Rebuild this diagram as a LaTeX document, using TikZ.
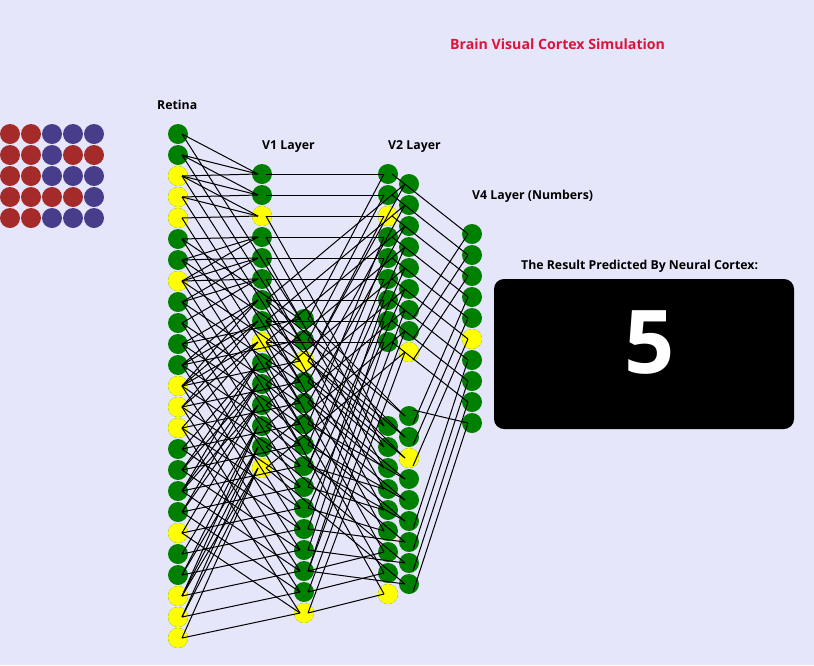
\documentclass[tikz,border=0pt]{standalone}
\usepackage{fontspec}
\setmainfont{Open Sans}
\definecolor{bgcol}{HTML}{E6E6FA}
\definecolor{redcell}{HTML}{A52A2A}
\definecolor{bluecell}{HTML}{483D8B}
\definecolor{titlecol}{HTML}{DC143C}
\definecolor{oncol}{HTML}{FFFF00}
\definecolor{offcol}{HTML}{008000}

\begin{document}
\begin{tikzpicture}[x=1pt,y=-1pt]
\tikzstyle{cell} = [circle, minimum size=20pt, inner sep=0]
\tikzstyle{neuron} = [circle, minimum size=20pt, inner sep=0, fill=offcol]
\tikzstyle{active} = [neuron, fill=oncol]
\tikzstyle{label} = [inner sep=0, anchor=base west, font=\bfseries\fontsize{12.3pt}{14pt}\selectfont]
\tikzstyle{syn} = [black, line width=1pt]

% Sfondo
\fill[bgcol] (0,0) rectangle (814,665);
\useasboundingbox (0,0) rectangle (814,665);

% Griglia di ingresso
\def\redmark{r}
\foreach \row/\pat in {0/{r,r,b,b,b},1/{r,r,b,r,r},2/{r,r,b,b,b},3/{r,r,r,r,b},4/{r,r,b,b,b}} {
  \foreach \c [count=\col from 0] in \pat {
    \pgfmathsetmacro\x{10+21*\col}
    \pgfmathsetmacro\y{134+21*\row}
    \ifx\c\redmark
      \node[cell, fill=redcell] (in\row-\col) at (\x,\y) {};
    \else
      \node[cell, fill=bluecell] (in\row-\col) at (\x,\y) {};
    \fi
  }
}

% Retina
\foreach \i in {0,...,24} {
  \pgfmathsetmacro\y{134+21*\i}
  \node[neuron] (ret\i) at (178,\y) {};
}
\foreach \i in {2,3,4,7,12,13,14,19,22,23,24} {
  \pgfmathsetmacro\y{134+21*\i}
  \node[active] (ret\i) at (178,\y) {};
}

% V1
\foreach \i in {0,...,14} {
  \pgfmathsetmacro\y{174+21*\i}
  \node[neuron] (va\i) at (262,\y) {};
  \pgfmathsetmacro\y{319+21*\i}
  \node[neuron] (vb\i) at (304,\y) {};
}
\foreach \i in {2,8,14} {
  \pgfmathsetmacro\y{174+21*\i}
  \node[active] (va\i) at (262,\y) {};
}
\foreach \i in {2,14} {
  \pgfmathsetmacro\y{319+21*\i}
  \node[active] (vb\i) at (304,\y) {};
}

% V2
\foreach \i in {0,...,8} {
  \pgfmathsetmacro\ya{174+21*\i}
  \pgfmathsetmacro\yb{184+21*\i}
  \pgfmathsetmacro\yc{416+21*\i}
  \pgfmathsetmacro\yd{426+21*\i}
  \node[neuron] (ca\i) at (388,\ya) {};
  \node[neuron] (cb\i) at (409,\yb) {};
  \node[neuron] (cc\i) at (409,\yc) {};
  \node[neuron] (cd\i) at (388,\yd) {};
}
\node[active] (ca2) at (388,216) {};
\node[active] (cb8) at (409,352) {};
\node[active] (cc2) at (409,458) {};
\node[active] (cd8) at (388,594) {};

% V4
\foreach \i in {0,...,9} {
  \pgfmathsetmacro\y{234+21*\i}
  \node[neuron] (vf\i) at (472,\y) {};
}
\node[active] (vf5) at (472,339) {};

% Retina -> V1
\foreach \i in {0,...,14} {
  \pgfmathtruncatemacro\base{5*int(\i/3)+mod(\i,3)}
  \foreach \s in {0,1,2} {
    \pgfmathtruncatemacro\src{\base+\s}
    \draw[syn] ([xshift=4pt]ret\src.center) -- ([xshift=-4pt]va\i.center);
    \pgfmathtruncatemacro\src{\i+5*\s}
    \draw[syn] ([xshift=4pt]ret\src.center) -- ([xshift=-4pt]vb\i.center);
  }
}

% V1 -> V2
\foreach \i in {0,...,8} {
  \pgfmathtruncatemacro\low{\i+6}
  \pgfmathtruncatemacro\mid{\i+2}
  \pgfmathtruncatemacro\ka{5*int(\i/3)+mod(\i,3)}
  \pgfmathtruncatemacro\kb{\ka+2}
  \draw[syn] ([xshift=4pt]va\i.center) -- ([xshift=-4pt]ca\i.center);
  \draw[syn] ([xshift=4pt]vb\ka.center) -- ([xshift=-4pt]ca\i.center);
  \draw[syn] ([xshift=4pt]va\low.center) -- ([xshift=-4pt]cb\i.center);
  \draw[syn] ([xshift=4pt]vb\kb.center) -- ([xshift=-4pt]cb\i.center);
  \draw[syn] ([xshift=4pt]va\low.center) -- ([xshift=-4pt]cc\i.center);
  \draw[syn] ([xshift=4pt]vb\ka.center) -- ([xshift=-4pt]cc\i.center);
  \draw[syn] ([xshift=4pt]va\mid.center) -- ([xshift=-4pt]cd\i.center);
  \draw[syn] ([xshift=4pt]vb\kb.center) -- ([xshift=-4pt]cd\i.center);
}

% V2 -> V4
\foreach \i in {0,...,8} {
  \draw[syn] ([xshift=4pt]ca\i.center) -- ([xshift=-4pt]vf\i.center);
}
\foreach \src/\dst in {cb6/0,cb7/1,cb8/2,cc0/3,cc1/4,cc2/5,cc5/6,cc6/7,cc7/8,cc8/9} {
  \draw[syn] ([xshift=4pt,yshift=-8pt]\src.center) -- ([xshift=-4pt]vf\dst.center);
}
\draw[syn] ([xshift=4pt,yshift=6pt]cc0.center) -- ([xshift=-4pt]vf9.center);

% Risultato
\node[fill=black, rounded corners=10pt, minimum width=300pt, minimum height=150pt, inner sep=0] (result) at (644,354) {};
\node[text=white, inner sep=0, font=\bfseries\fontsize{88pt}{88pt}\selectfont] (digit) at (650,343) {5};

% Etichette
\node[label, text=titlecol, font=\bfseries\fontsize{14.15pt}{16pt}\selectfont] (title) at (450,49.3) {Brain Visual Cortex Simulation};
\node[label] (retlabel) at (157,109.2) {Retina};
\node[label] (vonelabel) at (262,149) {V1 Layer};
\node[label] (vtwolabel) at (388,149) {V2 Layer};
\node[label] (vfourlabel) at (472,199) {V4 Layer (Numbers)};
\node[label] (reslabel) at (521,269.2) {The Result Predicted By Neural Cortex:};
\end{tikzpicture}
\end{document}
